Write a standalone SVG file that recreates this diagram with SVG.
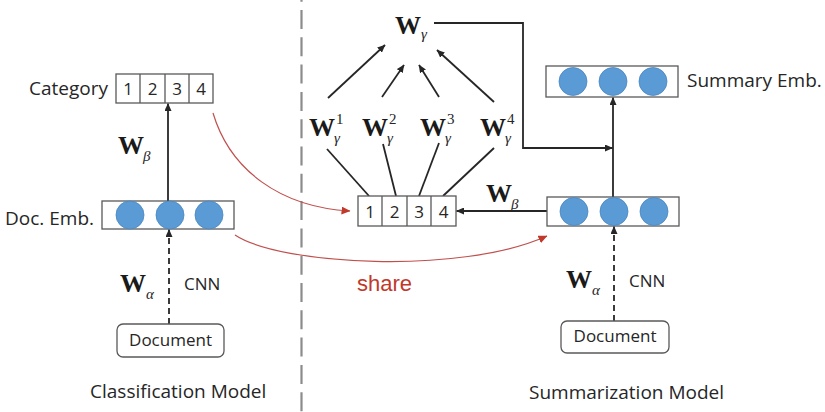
<svg xmlns="http://www.w3.org/2000/svg" width="825" height="412" viewBox="0 0 825 412">
<defs>
<marker id="ah" viewBox="0 0 8 7" refX="7.5" refY="3.5" markerWidth="8" markerHeight="7" markerUnits="userSpaceOnUse" orient="auto">
<path d="M0,0 L8,3.5 L0,7 z" fill="#262626"/>
</marker>
<marker id="ahr" viewBox="0 0 9 8" refX="8.5" refY="4" markerWidth="9" markerHeight="8" markerUnits="userSpaceOnUse" orient="auto">
<path d="M0,0 L9,4 L0,8 z" fill="#C0392B"/>
</marker>
</defs>
<style>
.box{fill:#fff;stroke:#595959;stroke-width:1.3}
.cell{fill:none;stroke:#595959;stroke-width:1.3}
.dot{fill:#5B9BD5;stroke:#4A86C0;stroke-width:0.8}
.lbl{font-family:"Open Sans","Liberation Sans",sans-serif;font-size:19px;fill:#262626}
.num{font-family:"Open Sans","Liberation Sans",sans-serif;font-size:17px;fill:#262626;text-anchor:middle}
.doc{font-family:"Open Sans","Liberation Sans",sans-serif;font-size:17px;fill:#262626;text-anchor:middle}
.cnn{font-family:"Open Sans","Liberation Sans",sans-serif;font-size:17px;fill:#262626}
.W{font-family:"Liberation Serif",serif;font-weight:bold;font-size:26px;fill:#1a1a1a}
.sub{font-family:"Liberation Serif",serif;font-style:italic;font-size:15px;fill:#262626}
.sup{font-family:"Liberation Serif",serif;font-size:15px;fill:#262626}
.ln{fill:none;stroke:#262626;stroke-width:1.8}
.dash{fill:none;stroke:#262626;stroke-width:1.8;stroke-dasharray:6,4}
.red{fill:none;stroke:#C0504D;stroke-width:1.2}
</style>

<line id="divider" x1="301.5" y1="0" x2="301.5" y2="412" stroke="#8C8C8C" stroke-width="2.2" stroke-dasharray="19,8.3" stroke-dashoffset="-10"/>

<g id="connectors">
<line class="ln" x1="168" y1="201" x2="168" y2="103.5" marker-end="url(#ah)"/>
<line class="dash" x1="169" y1="324" x2="169" y2="229.5" marker-end="url(#ah)"/>
<line class="dash" x1="614" y1="321" x2="614" y2="226.5" marker-end="url(#ah)"/>
<line class="ln" x1="613" y1="197" x2="613" y2="97.5" marker-end="url(#ah)"/>
<line class="ln" x1="547" y1="211" x2="456.5" y2="211" marker-end="url(#ah)"/>
<polyline class="ln" points="434,23 523,23 523,148 612.5,148" marker-end="url(#ah)"/>
<line class="ln" x1="328" y1="98" x2="385" y2="45" marker-end="url(#ah)"/>
<line class="ln" x1="382" y1="97" x2="404" y2="65" marker-end="url(#ah)"/>
<line class="ln" x1="439" y1="97" x2="419" y2="65" marker-end="url(#ah)"/>
<line class="ln" x1="494" y1="102" x2="437" y2="50" marker-end="url(#ah)"/>
<line class="ln" x1="327" y1="149" x2="369" y2="196"/>
<line class="ln" x1="383" y1="144" x2="396" y2="196"/>
<line class="ln" x1="439" y1="143" x2="419" y2="196"/>
<line class="ln" x1="494" y1="148" x2="443" y2="196"/>
<path class="red" d="M213,113 C230,170 280,207 350,211" marker-end="url(#ahr)"/>
<path class="red" d="M235,235 C280,265 460,275 547,236" marker-end="url(#ahr)"/>
</g>

<g id="category-left">
<rect class="box" x="116" y="74" width="97" height="29"/>
<path class="cell" d="M140,74V103M165,74V103M189,74V103"/>
<text class="num" x="128" y="95">1</text>
<text class="num" x="152.5" y="95">2</text>
<text class="num" x="177" y="95">3</text>
<text class="num" x="201" y="95">4</text>
<text class="lbl" x="108" y="95" text-anchor="end">Category</text>
</g>

<g id="docemb-left">
<rect class="box" x="102" y="201" width="132" height="28"/>
<circle class="dot" cx="130" cy="215" r="14"/>
<circle class="dot" cx="170" cy="215" r="14"/>
<circle class="dot" cx="209" cy="215" r="14"/>
<text class="lbl" x="94" y="225" text-anchor="end">Doc. Emb.</text>
</g>

<g id="wbeta-left">
<text class="W" x="118" y="154">W</text>
<text class="sub" x="143" y="161">β</text>
</g>

<g id="walpha-left">
<text class="W" x="120" y="292">W</text>
<text class="sub" x="146" y="299">α</text>
<text class="cnn" x="184" y="290">CNN</text>
</g>

<g id="document-left">
<rect class="box" x="117" y="324" width="107" height="33" rx="6"/>
<text class="doc" x="170.5" y="346">Document</text>
</g>

<text class="lbl" x="90" y="398">Classification Model</text>

<g id="wgamma-top">
<text class="W" x="395" y="34">W</text>
<text class="sub" x="421" y="39">γ</text>
</g>

<g id="wgamma-1">
<text class="W" x="309" y="136">W</text>
<text class="sup" x="336" y="124">1</text>
<text class="sub" x="334" y="143">γ</text>
</g>
<g id="wgamma-2">
<text class="W" x="362" y="136">W</text>
<text class="sup" x="389" y="124">2</text>
<text class="sub" x="387" y="143">γ</text>
</g>
<g id="wgamma-3">
<text class="W" x="420" y="136">W</text>
<text class="sup" x="447" y="124">3</text>
<text class="sub" x="445" y="143">γ</text>
</g>
<g id="wgamma-4">
<text class="W" x="480" y="136">W</text>
<text class="sup" x="507" y="124">4</text>
<text class="sub" x="505" y="143">γ</text>
</g>

<g id="category-center">
<rect class="box" x="358" y="196" width="98" height="30"/>
<path class="cell" d="M382,196V226M407,196V226M431,196V226"/>
<text class="num" x="370" y="218">1</text>
<text class="num" x="394.5" y="218">2</text>
<text class="num" x="419" y="218">3</text>
<text class="num" x="443.5" y="218">4</text>
</g>

<g id="wbeta-center">
<text class="W" x="486" y="202">W</text>
<text class="sub" x="511" y="209">β</text>
</g>

<text id="share" x="357" y="291" font-family="'Liberation Sans',Arial,sans-serif" font-size="22" fill="#C0392B">share</text>

<g id="summary-emb">
<rect class="box" x="546" y="66" width="132" height="31"/>
<circle class="dot" cx="573" cy="81.5" r="14"/>
<circle class="dot" cx="613" cy="81.5" r="14"/>
<circle class="dot" cx="653" cy="81.5" r="14"/>
<text class="lbl" x="687" y="87">Summary Emb.</text>
</g>

<g id="docemb-right">
<rect class="box" x="547" y="197" width="132" height="29"/>
<circle class="dot" cx="574" cy="211.5" r="14"/>
<circle class="dot" cx="614" cy="211.5" r="14"/>
<circle class="dot" cx="654" cy="211.5" r="14"/>
</g>

<g id="walpha-right">
<text class="W" x="566" y="288">W</text>
<text class="sub" x="592" y="295">α</text>
<text class="cnn" x="629" y="287">CNN</text>
</g>

<g id="document-right">
<rect class="box" x="561" y="321" width="108" height="32" rx="6"/>
<text class="doc" x="615" y="342">Document</text>
</g>

<text class="lbl" x="529" y="399">Summarization Model</text>
</svg>
